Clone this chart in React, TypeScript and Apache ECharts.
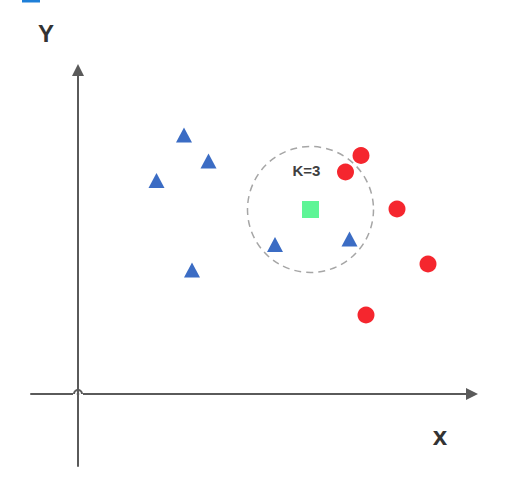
import React, { useEffect, useRef } from "react";
import * as echarts from "echarts";

// Data (axes cross at 0,0)
const classA: [number, number][] = [
  [106, 259],
  [130.5, 233],
  [78.5, 213.5],
  [114, 124],
  [197, 149.5],
  [271.5, 155],
];
const classB: [number, number][] = [
  [283, 238.5],
  [267.5, 222],
  [319, 185],
  [350, 130],
  [288, 79],
];
const query: [number, number][] = [[232.5, 184.5]];
const kLabel = "K=3";
const xName = "x";
const yName = "Y";

export default function App() {
  const ref = useRef<HTMLDivElement>(null);
  useEffect(() => {
    if (!ref.current) return;
    document.body.style.margin = "0";
    const chart = echarts.init(ref.current, undefined, { renderer: "svg" });
    const axisLine = {
      show: true,
      onZero: true,
      symbol: ["none", "triangle"],
      symbolSize: [12, 12],
      lineStyle: { color: "#5a5a5a", width: 2 },
    };
    chart.setOption({
      animation: false,
      backgroundColor: "#ffffff",
      grid: { left: 31, right: 40, top: 70, bottom: 23 },
      xAxis: {
        type: "value",
        min: -47,
        max: 394,
        axisLine,
        axisTick: { show: false },
        axisLabel: { show: false },
        splitLine: { show: false },
      },
      yAxis: {
        type: "value",
        min: -72,
        max: 324,
        axisLine,
        axisTick: { show: false },
        axisLabel: { show: false },
        splitLine: { show: false },
      },
      series: [
        {
          type: "scatter",
          data: query,
          symbol: "circle",
          symbolSize: 126,
          itemStyle: {
            color: "rgba(0,0,0,0)",
            borderColor: "#a6a6a6",
            borderWidth: 1.5,
            borderType: [7, 5],
            opacity: 1,
          },
          label: {
            show: true,
            formatter: kLabel,
            position: "inside",
            offset: [-4, -39],
            color: "#404040",
            fontSize: 15,
            fontWeight: "bold",
            fontFamily: "Liberation Sans, Arial, sans-serif",
          },
          z: 1,
        },
        {
          type: "scatter",
          data: classA,
          symbol: "triangle",
          symbolSize: [16, 15],
          itemStyle: { color: "#3b6cc4", opacity: 1 },
          z: 3,
        },
        {
          type: "scatter",
          data: classB,
          symbol: "circle",
          symbolSize: 17,
          itemStyle: { color: "#f5262e", opacity: 1 },
          z: 3,
        },
        {
          type: "scatter",
          data: query,
          symbol: "rect",
          symbolSize: 17,
          itemStyle: { color: "#5ef596", opacity: 1 },
          z: 3,
        },
      ],
    });
    const o = chart.convertToPixel({ gridIndex: 0 }, [0, 0]) as number[];
    chart.setOption({
      graphic: [
        { type: "rect", shape: { x: 22, y: 0, width: 18, height: 2.5 }, style: { fill: "#1e7fd8" } },
        {
          type: "text",
          x: 46,
          y: 33,
          style: {
            text: yName,
            fontSize: 24,
            fontWeight: "bold",
            fontFamily: "Liberation Sans, Arial, sans-serif",
            fill: "#333333",
            align: "center",
            verticalAlign: "middle",
          },
        },
        {
          type: "text",
          x: 440,
          y: 436,
          style: {
            text: xName,
            fontSize: 26,
            fontWeight: "bold",
            fontFamily: "Liberation Sans, Arial, sans-serif",
            fill: "#333333",
            align: "center",
            verticalAlign: "middle",
          },
        },
        { type: "rect", shape: { x: o[0] - 5, y: o[1] - 1.5, width: 3.8, height: 3 }, style: { fill: "#fff" }, z: 100 },
        { type: "rect", shape: { x: o[0] + 1.2, y: o[1] - 1.5, width: 3.8, height: 3 }, style: { fill: "#fff" }, z: 100 },
        {
          type: "arc",
          shape: { cx: o[0], cy: o[1], r: 4, startAngle: Math.PI, endAngle: Math.PI * 2, clockwise: true },
          style: { stroke: "#5a5a5a", lineWidth: 2, fill: "none" },
          z: 101,
        },
      ],
    });
    return () => chart.dispose();
  }, []);
  return <div ref={ref} style={{ width: 512, height: 489 }} />;
}
